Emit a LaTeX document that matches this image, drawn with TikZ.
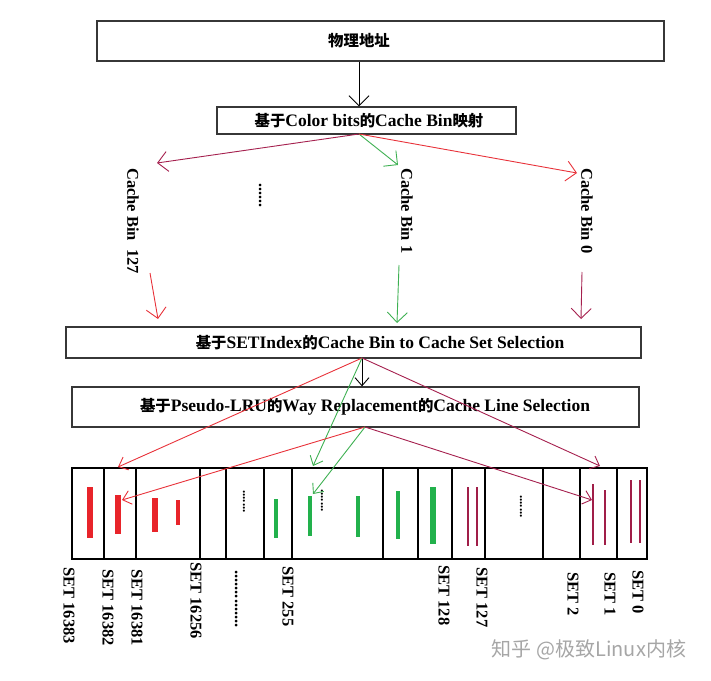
\documentclass[tikz,border=0pt]{standalone}
\usepackage{fontspec}
\usepackage{xcolor}
\setmainfont{Liberation Serif}
\newfontfamily\cjk{Noto Sans CJK SC}[Scale=0.88]
\newfontfamily\markfont{Noto Sans CJK SC}
\usetikzlibrary{arrows.meta}
\definecolor{linkred}{RGB}{232,50,58}
\definecolor{linkmaroon}{RGB}{165,32,78}
\definecolor{linkgreen}{RGB}{62,176,82}
\definecolor{barred}{RGB}{232,36,42}
\definecolor{bargreen}{RGB}{34,177,76}
\definecolor{barmaroon}{RGB}{160,30,72}
\definecolor{framegray}{RGB}{55,55,55}
\newcommand{\zh}[1]{{\cjk #1}}
\tikzset{
    frame-box/.style = {draw=framegray, line width=1.3pt, rectangle, inner sep=0pt},
    box-text/.style = {inner sep=0pt, font=\fontsize{17.5}{20}\selectfont\bfseries},
    bin-label/.style = {inner sep=0pt, rotate=-90, anchor=west, font=\fontsize{16.5}{18}\selectfont\bfseries},
    dot-col/.style = {inner sep=0pt, rotate=-90, anchor=base west, font=\fontsize{13}{14}\selectfont\bfseries},
    link/.style = {line width=0.9pt, -{Straight Barb[length=10pt,width=20pt]}},
    small-link/.style = {line width=0.9pt, -{Straight Barb[length=8pt,width=14pt]}},
}

\begin{document}
\begin{tikzpicture}[x=1pt,y=-1pt]
\useasboundingbox (0,0) rectangle (711,680);

% boxes
\node[frame-box, minimum width=567pt, minimum height=40pt] (phys) at (380.5,41) {};
\node[box-text] (physText) at (359,41) {\zh{物理地址}};
\node[frame-box, minimum width=299pt, minimum height=27pt] (colorbox) at (366.5,120.5) {};
\node[box-text] (colorText) at (369,121) {\zh{基于}Color bits\zh{的}Cache Bin\zh{映射}};
\node[frame-box, minimum width=575pt, minimum height=31pt] (setidx) at (353.5,342.5) {};
\node[box-text] (setidxText) at (380,343) {\zh{基于}SETIndex\zh{的}Cache Bin to Cache Set Selection};
\node[frame-box, minimum width=567pt, minimum height=40pt] (plru) at (355.5,407) {};
\node[box-text] (plruText) at (365,407) {\zh{基于}Pseudo-LRU\zh{的}Way Replacement\zh{的}Cache Line Selection};

% cache bins
\node[bin-label] (bin127) at (133,168) {Cache Bin\ \ 127};
\node[dot-col, font=\fontsize{16}{18}\selectfont\bfseries] (binDots) at (259,183) {......};
\node[bin-label] (bin1) at (407,168) {Cache Bin 1};
\node[bin-label] (bin0) at (587,168) {Cache Bin 0};

\coordinate (binSplit) at (359,134);
\coordinate (tip127) at (157,163);
\coordinate (tip1) at (398,165);
\coordinate (tip0) at (577,173);
\coordinate (out127) at (150,273);
\coordinate (out1) at (399,265);
\coordinate (out0) at (582,272);
\coordinate (in127) at (158,319);
\coordinate (in1) at (397,323);
\coordinate (in0) at (581,319);

\draw[link] (physText |- phys.south) -- (physText |- colorbox.north);
\draw[link, linkmaroon] (binSplit) -- (tip127);
\draw[link, linkgreen] (binSplit) -- (tip1);
\draw[link, linkred] (binSplit) -- (tip0);
\draw[link, linkred] (out127) -- (in127);
\draw[link, linkgreen] (out1) -- (in1);
\draw[link, linkmaroon] (out0) -- (in0);

% sets
\node[draw, line width=1.1pt, rectangle, minimum width=575pt, minimum height=91pt, inner sep=0pt] (setrow) at (359.5,513.5) {};
\foreach \x in {104,136,200,226,264,292,383,418,452,485,543,580,617}
    \draw[line width=1.1pt] (\x,468) -- (\x,559);

\foreach \x/\ytop/\ybot/\w in {90/487/538/5.7, 118/495/534/5.7, 155/498/532/6.5, 178/500/525/4}
    \draw[barred, line width=\w pt] (\x,\ytop) -- (\x,\ybot);
\foreach \x/\ytop/\ybot/\w in {276/499/538/4, 310/496/536/4, 358/496/537/4, 398/491/539/4.5, 433/487/544/6}
    \draw[bargreen, line width=\w pt] (\x,\ytop) -- (\x,\ybot);
\foreach \x/\ytop/\ybot in {468/487/546, 477/487/546, 593/484/545, 605/490/545, 631/480/543, 640/480/543}
    \draw[barmaroon, line width=1.5pt] (\x,\ytop) -- (\x,\ybot);

\node[dot-col] (dotsA) at (243,490) {.......};
\node[dot-col] (dotsB) at (321,489) {.......};
\node[dot-col] (dotsC) at (520,495) {.......};

% set labels
\node[bin-label] (set16383) at (69,567) {SET 16383};
\node[bin-label] (set16382) at (108,569) {SET 16382};
\node[bin-label] (set16381) at (137,569) {SET 16381};
\node[bin-label] (set16256) at (196,562) {SET 16256};
\node[dot-col, font=\fontsize{16.5}{18}\selectfont\bfseries] (setDots) at (235,570) {..............};
\node[bin-label] (set255) at (288,566) {SET 255};
\node[bin-label] (set128) at (444,565) {SET 128};
\node[bin-label] (set127) at (482,567) {SET 127};
\node[bin-label] (set2) at (573,572) {SET 2};
\node[bin-label] (set1) at (610,572) {SET 1};
\node[bin-label] (set0) at (638,570) {SET 0};

% selection lines
\coordinate (setSplit) at (362,358);
\coordinate (lineSplit) at (365,427);
\coordinate (hit16382) at (118,467);
\coordinate (hit255) at (313,466);
\coordinate (hit1) at (600,466);
\coordinate (way16382) at (122,500);
\coordinate (way255) at (313,494);
\coordinate (way1) at (592,500);

\draw[small-link] (setSplit) -- (setSplit |- plru.north);
\draw[small-link, linkred] (setSplit) -- (hit16382);
\draw[small-link, linkgreen] (setSplit) -- (hit255);
\draw[small-link, linkmaroon] (setSplit) -- (hit1);
\draw[small-link, linkred] (lineSplit) -- (way16382);
\draw[small-link, linkgreen] (lineSplit) -- (way255);
\draw[small-link, linkmaroon] (lineSplit) -- (way1);

\node[inner sep=0pt, text=black!35, font=\markfont\fontsize{20}{24}\selectfont] (mark) at (589,650) {知乎 @极致Linux内核};
\end{tikzpicture}
\end{document}
